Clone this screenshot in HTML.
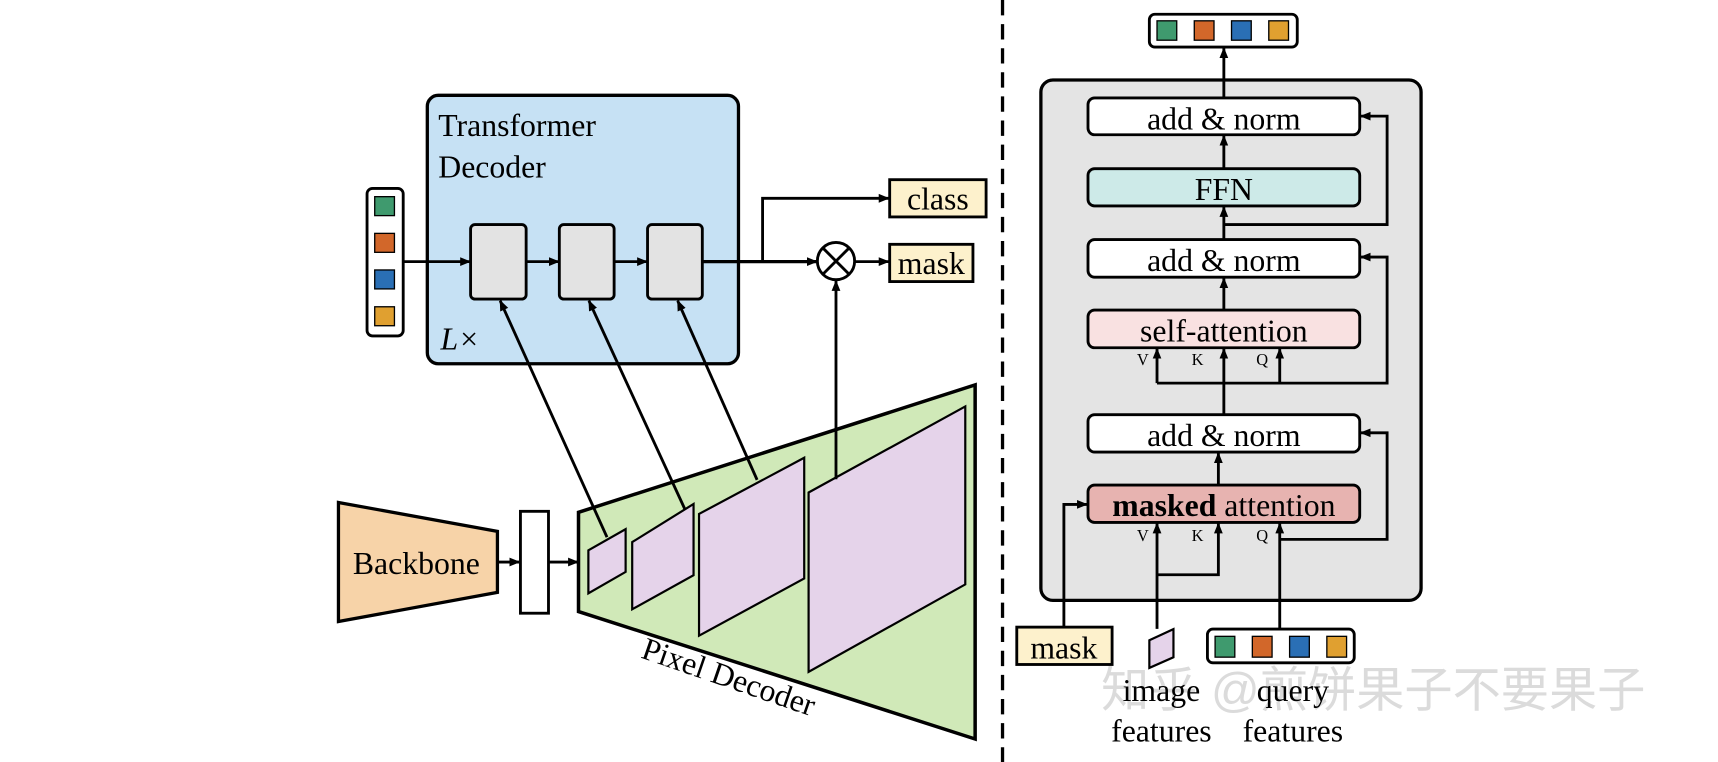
<!DOCTYPE html>
<html><head><meta charset="utf-8"><style>
html,body{margin:0;padding:0;background:#fff;}
svg{display:block;}
text{font-family:"Liberation Serif","Noto Serif CJK SC",serif;fill:#000;}
</style></head><body>
<svg width="1718" height="762" viewBox="0 0 1568 695.5" preserveAspectRatio="none" xmlns="http://www.w3.org/2000/svg">
<defs>
<marker id="a" markerWidth="10" markerHeight="10" refX="9" refY="5" orient="auto" markerUnits="userSpaceOnUse">
<path d="M0,1 L10,5 L0,9 Z" fill="#000"/>
</marker>
</defs>
<text x="1005" y="645" font-size="44" style="fill:#cccccc;font-family:'Liberation Sans','Noto Sans CJK SC',sans-serif" opacity="0.7">知乎 @煎饼果子不要果子</text>
<g stroke="#000" stroke-width="2.6" fill="none">
<rect x="390" y="87" width="284" height="245" rx="10" fill="#c6e1f4" stroke-width="3"/>
<rect x="335" y="172" width="33" height="134.6" rx="5" fill="#fff" stroke-width="2.6"/>
<rect x="342" y="179.5" width="18" height="17.3" fill="#3f9a6e" stroke-width="1.2"/>
<rect x="342" y="213" width="18" height="17.3" fill="#d2672a" stroke-width="1.2"/>
<rect x="342" y="246.4" width="18" height="17.3" fill="#2a6fb5" stroke-width="1.2"/>
<rect x="342" y="280" width="18" height="17.3" fill="#e0a030" stroke-width="1.2"/>
<rect x="429.5" y="205" width="50.7" height="68" rx="4" fill="#e3e3e3"/>
<rect x="510.5" y="205" width="50" height="68" rx="4" fill="#e3e3e3"/>
<rect x="591" y="205" width="50" height="68" rx="4" fill="#e3e3e3"/>
<line x1="368" y1="238.8" x2="429" y2="238.8" marker-end="url(#a)"/>
<line x1="480.2" y1="238.8" x2="510" y2="238.8" marker-end="url(#a)"/>
<line x1="560.5" y1="238.8" x2="590.5" y2="238.8" marker-end="url(#a)"/>
<line x1="641" y1="238.8" x2="745.5" y2="238.8" stroke-width="3" marker-end="url(#a)"/>
<polyline points="696,238.8 696,181 811,181" marker-end="url(#a)"/>
<line x1="780" y1="238.8" x2="811" y2="238.8" marker-end="url(#a)"/>
<circle cx="763" cy="238.3" r="17" fill="#fff"/>
<line x1="751" y1="226.3" x2="775" y2="250.3"/>
<line x1="775" y1="226.3" x2="751" y2="250.3"/>
<rect x="812" y="164" width="88" height="34" fill="#fdf1cc"/>
<rect x="812" y="223" width="76" height="34" fill="#fdf1cc"/>
<polygon points="308.9,458.6 454,485 454,540.7 308.9,567.3" fill="#f7d3a8" stroke-width="3"/>
<line x1="454" y1="513" x2="474" y2="513" marker-end="url(#a)"/>
<rect x="475" y="466.7" width="25.6" height="93" fill="#fff"/>
<line x1="500.6" y1="513" x2="527.5" y2="513" marker-end="url(#a)"/>
<polygon points="528,467.6 890,351.3 890,674.5 528,558.2" fill="#d0e9b8" stroke-width="3.2"/>
<polygon points="537,502.3 571,483 571,522 537,541.6" fill="#e5d3ea" stroke-width="2"/>
<polygon points="577,494.8 633,460 633,525 577,556.1" fill="#e5d3ea" stroke-width="2"/>
<polygon points="638,469.1 734,417.8 734,528 638,580.2" fill="#e5d3ea" stroke-width="2"/>
<polygon points="738,449.5 881,371 881,533.4 738,613.2" fill="#e5d3ea" stroke-width="2"/>
<line x1="554" y1="490.3" x2="456.5" y2="274.5" marker-end="url(#a)"/>
<line x1="625" y1="464.6" x2="537.5" y2="274.5" marker-end="url(#a)"/>
<line x1="691" y1="438" x2="618.5" y2="274.5" marker-end="url(#a)"/>
<line x1="763" y1="437.4" x2="763" y2="256.5" marker-end="url(#a)"/>
<line x1="915" y1="0" x2="915" y2="695.5" stroke-width="3" stroke-dasharray="14,8"/>
<rect x="950" y="73" width="347" height="475" rx="11" fill="#e4e4e4" stroke-width="3"/>
<rect x="1049" y="13" width="135" height="30" rx="5" fill="#fff"/>
<rect x="1056" y="19" width="18" height="17.7" fill="#3f9a6e" stroke-width="1.2"/>
<rect x="1090" y="19" width="18" height="17.7" fill="#d2672a" stroke-width="1.2"/>
<rect x="1124" y="19" width="18" height="17.7" fill="#2a6fb5" stroke-width="1.2"/>
<rect x="1158" y="19" width="18" height="17.7" fill="#e0a030" stroke-width="1.2"/>
<rect x="993" y="89.4" width="248" height="33.6" rx="6" fill="#fff"/>
<rect x="993" y="154" width="248" height="34" rx="6" fill="#cdeae8"/>
<rect x="993" y="218.7" width="248" height="34.3" rx="6" fill="#fff"/>
<rect x="993" y="283" width="248" height="34.4" rx="6" fill="#f9e1e1"/>
<rect x="993" y="378.5" width="248" height="34.1" rx="6" fill="#fff"/>
<rect x="993" y="442.7" width="248" height="34.1" rx="6" fill="#e7b3b0"/>
<line x1="1117" y1="89.4" x2="1117" y2="44" marker-end="url(#a)"/>
<line x1="1117" y1="154" x2="1117" y2="124" marker-end="url(#a)"/>
<line x1="1117" y1="218.7" x2="1117" y2="189" marker-end="url(#a)"/>
<polyline points="1117,205 1266,205 1266,106 1242,106" marker-end="url(#a)"/>
<line x1="1117" y1="283" x2="1117" y2="254" marker-end="url(#a)"/>
<line x1="1117" y1="378.5" x2="1117" y2="349.7"/>
<polyline points="1056,349.7 1266,349.7 1266,234.6 1242,234.6" marker-end="url(#a)"/>
<line x1="1056" y1="349.7" x2="1056" y2="318.4" marker-end="url(#a)"/>
<line x1="1117" y1="349.7" x2="1117" y2="318.4" marker-end="url(#a)"/>
<line x1="1168" y1="349.7" x2="1168" y2="318.4" marker-end="url(#a)"/>
<line x1="1112" y1="442.7" x2="1112" y2="413.6" marker-end="url(#a)"/>
<line x1="1056" y1="574" x2="1056" y2="477.8" marker-end="url(#a)"/>
<polyline points="1056,524.6 1112,524.6 1112,477.8" marker-end="url(#a)"/>
<line x1="1168" y1="574.2" x2="1168" y2="477.8" marker-end="url(#a)"/>
<polyline points="1168,492.3 1266,492.3 1266,395 1242,395" marker-end="url(#a)"/>
<polyline points="971,572.4 971,460.4 992,460.4" marker-end="url(#a)"/>
<rect x="928" y="572.4" width="87" height="34.1" fill="#fdf1cc"/>
<polygon points="1049,584.4 1071,574.2 1071,599.9 1049,609.6" fill="#e5d3ea" stroke-width="2"/>
<rect x="1102" y="574.2" width="134" height="30.8" rx="5" fill="#fff"/>
<rect x="1109" y="580.8" width="18" height="19" fill="#3f9a6e" stroke-width="1.2"/>
<rect x="1143" y="580.8" width="18" height="19" fill="#d2672a" stroke-width="1.2"/>
<rect x="1177" y="580.8" width="18" height="19" fill="#2a6fb5" stroke-width="1.2"/>
<rect x="1211" y="580.8" width="18" height="19" fill="#e0a030" stroke-width="1.2"/>
</g>
<g font-size="29">
<text x="400" y="124">Transformer</text>
<text x="400" y="162">Decoder</text>
<text x="402" y="319" font-style="italic">L×</text>
<text x="856" y="191" text-anchor="middle">class</text>
<text x="850" y="250" text-anchor="middle">mask</text>
<text x="380" y="524" text-anchor="middle">Backbone</text>
<text x="584" y="600" transform="rotate(19 584 600)">Pixel Decoder</text>
<text x="1117" y="118" text-anchor="middle">add &amp; norm</text>
<text x="1117" y="182.5" text-anchor="middle">FFN</text>
<text x="1117" y="247.5" text-anchor="middle">add &amp; norm</text>
<text x="1117" y="311.5" text-anchor="middle">self-attention</text>
<text x="1117" y="407" text-anchor="middle">add &amp; norm</text>
<text x="1117" y="471" text-anchor="middle"><tspan font-weight="bold">masked</tspan> attention</text>
<text x="971" y="601" text-anchor="middle">mask</text>
<text x="1060" y="640" text-anchor="middle">image</text>
<text x="1060" y="677" text-anchor="middle">features</text>
<text x="1180" y="640" text-anchor="middle">query</text>
<text x="1180" y="677" text-anchor="middle">features</text>
</g>
<g font-size="15">
<text x="1043" y="333" text-anchor="middle">V</text>
<text x="1093" y="333" text-anchor="middle">K</text>
<text x="1152" y="333" text-anchor="middle">Q</text>
<text x="1043" y="494" text-anchor="middle">V</text>
<text x="1093" y="494" text-anchor="middle">K</text>
<text x="1152" y="494" text-anchor="middle">Q</text>
</g>
</svg>
</body></html>
